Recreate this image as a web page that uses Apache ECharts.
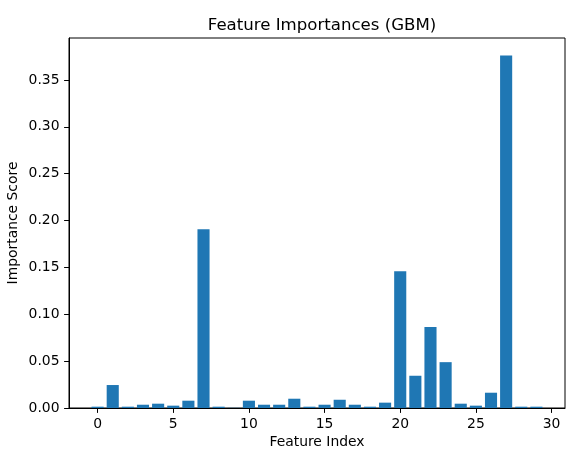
<!DOCTYPE html>
<html>
<head>
<meta charset="utf-8">
<script src="https://cdn.jsdelivr.net/npm/echarts@6/dist/echarts.min.js"></script>
<style>
  html, body { margin: 0; padding: 0; background: #fff; }
  #chart { width: 575px; height: 454px; }
</style>
</head>
<body>
<div id="chart"></div>
<script>
// 特征重要性（GBM），按索引 0..29
const featureIndex = [
  0, 1, 2, 3, 4, 5, 6, 7, 8, 9,
  10, 11, 12, 13, 14, 15, 16, 17, 18, 19,
  20, 21, 22, 23, 24, 25, 26, 27, 28, 29,
]
const importance = [
  0.0014, 0.0245, 0.0014, 0.0035, 0.0046, 0.0025, 0.0078, 0.1907, 0.0014, 0.0002,
  0.0078, 0.0035, 0.0035, 0.0099, 0.0014, 0.0035, 0.0088, 0.0035, 0.0014, 0.0057,
  0.1460, 0.0344, 0.0865, 0.0489, 0.0046, 0.0025, 0.0163, 0.3759, 0.0014, 0.0014,
]
const xTicks = [0, 5, 10, 15, 20, 25, 30]
const yTicks = [0, 0.05, 0.10, 0.15, 0.20, 0.25, 0.30, 0.35]

const BAR_WIDTH = 0.8
const FONT = 'DejaVu Sans, sans-serif'

const chart = echarts.init(document.getElementById('chart'), null, { renderer: 'canvas' })

chart.setOption({
  backgroundColor: '#fff',
  animation: false,
  textStyle: { fontFamily: FONT, color: '#000' },
  title: {
    text: 'Feature Importances (GBM)',
    left: 317, top: 12, textAlign: 'center',
    textStyle: { fontFamily: FONT, fontSize: 16.6, fontWeight: 'normal', color: '#000' },
  },
  grid: {
    left: 69, right: 10, top: 38, bottom: 46,
    outerBoundsMode: 'none', containLabel: false,
    show: true, borderColor: '#000', borderWidth: 1,
  },
  xAxis: {
    type: 'value',
    min: -1.89, max: 30.89,
    name: 'Feature Index', nameLocation: 'middle', nameGap: 27,
    nameMoveOverlap: false,
    nameTextStyle: { fontFamily: FONT, fontSize: 13.9, color: '#000' },
    axisLine: { show: true, onZero: false, lineStyle: { color: '#000', width: 1 } },
    axisTick: { show: true, inside: false, length: 4.9, customValues: xTicks, lineStyle: { color: '#000' } },
    axisLabel: {
      customValues: xTicks, margin: 9,
      fontFamily: FONT, fontSize: 13.9, color: '#000',
    },
    splitLine: { show: false },
  },
  yAxis: {
    type: 'value',
    min: 0, max: 0.3947,
    name: 'Importance Score', nameLocation: 'middle', nameGap: 49,
    nameMoveOverlap: false,
    nameTextStyle: { fontFamily: FONT, fontSize: 13.9, color: '#000' },
    axisLine: { show: true, onZero: false, lineStyle: { color: '#000', width: 1 } },
    axisTick: { show: true, inside: false, length: 4.9, customValues: yTicks, lineStyle: { color: '#000' } },
    axisLabel: {
      customValues: yTicks, margin: 9.5,
      fontFamily: FONT, fontSize: 13.9, color: '#000',
      formatter: (v) => v.toFixed(2),
    },
    splitLine: { show: false },
  },
  series: [{
    type: 'custom',
    data: featureIndex.map((x, i) => [x, importance[i]]),
    encode: { x: 0, y: 1 },
    renderItem: (params, api) => {
      const x = api.value(0)
      const y = api.value(1)
      const topLeft = api.coord([x - BAR_WIDTH / 2, y])
      const bottomRight = api.coord([x + BAR_WIDTH / 2, 0])
      return {
        type: 'rect',
        shape: {
          x: topLeft[0], y: topLeft[1],
          width: bottomRight[0] - topLeft[0],
          height: bottomRight[1] - topLeft[1],
        },
        style: { fill: '#1f77b4', stroke: null, lineWidth: 0 },
      }
    },
  }],
})
</script>
</body>
</html>
